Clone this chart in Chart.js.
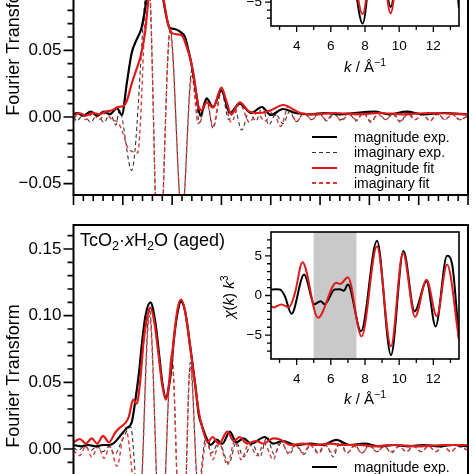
<!DOCTYPE html>
<html><head><meta charset="utf-8">
<script src="https://cdn.jsdelivr.net/npm/chart.js@4.4.1/dist/chart.umd.min.js"></script>
<style>
html,body{margin:0;padding:0;background:#fff;}
body{width:474px;height:474px;overflow:hidden;position:relative;font-family:"Liberation Sans",Arial,Helvetica,sans-serif;color:#000;}
.box{position:absolute;}
.lgl{position:absolute;left:312px;width:25px;}
.solid{height:2px;}
.dash{height:1.4px;}
.lgt{position:absolute;left:354px;font-size:14px;line-height:16px;white-space:nowrap;}
.lbl{position:absolute;white-space:nowrap;transform:translate(-50%,-50%);}
sub,sup{font-size:0.7em;line-height:0;}
</style></head><body>
<div class="box" style="left:0;top:-120px;width:474px;height:340px"><canvas id="mainTop" width="474" height="340"></canvas></div>
<div class="box" style="left:0;top:212px;width:474px;height:340px"><canvas id="mainBot" width="474" height="340"></canvas></div>
<div class="box" style="left:200px;top:-113px;width:270px;height:200px"><canvas id="insetTop" width="270" height="200"></canvas></div>
<div class="box" style="left:200px;top:220px;width:270px;height:200px"><canvas id="insetBot" width="270" height="200"></canvas></div>

<!-- legends -->
<div class="lgl solid" style="top:136px;background:#000"></div><div class="lgt" style="top:129px">magnitude exp.</div>
<div class="lgl dash" style="top:151.6px;background:repeating-linear-gradient(to right,#333 0 4px,transparent 4px 7px)"></div><div class="lgt" style="top:144.3px">imaginary exp.</div>
<div class="lgl solid" style="top:166.6px;background:#e0191b"></div><div class="lgt" style="top:159.6px">magnitude fit</div>
<div class="lgl dash" style="top:182.2px;background:repeating-linear-gradient(to right,#dd3a3a 0 4px,transparent 4px 7px)"></div><div class="lgt" style="top:174.9px">imaginary fit</div>
<div class="lgl solid" style="top:466px;background:#000"></div><div class="lgt" style="top:459px">magnitude exp.</div>

<div class="lbl" style="left:80px;top:240px;transform:translate(0,-50%);font-size:18px">TcO<sub>2</sub>·<i>x</i>H<sub>2</sub>O (aged)</div>
<div class="lbl" style="left:365px;top:66px;font-size:15px"><i>k</i> / Å<sup>−1</sup></div>
<div class="lbl" style="left:365px;top:398px;font-size:15px"><i>k</i> / Å<sup>−1</sup></div>
<div class="lbl" style="left:228px;top:297px;font-size:15px;transform:translate(-50%,-50%) rotate(-90deg)"><i>χ</i>(<i>k</i>) <i>k</i><sup>3</sup></div>

<script>
// ===== Fourier transform panels: R / Å =====
const rTicksMajor = [0,1,2,3,4,5,6,7,8];
const ftTicks = [-0.05, 0, 0.05, 0.10, 0.15];
const ftTickLabels = ['\u22120.05','0.00','0.05','0.10','0.15'];

// top panel
const rMagExpTop = [0.00,0.07,0.20,0.35,0.48,0.62,0.74,0.88,0.98,1.08,1.18,1.28,1.38,1.49,1.57,1.65,1.73,1.82,1.95,2.05,2.16,2.26,2.33,2.40,2.50,2.57,2.70,2.83,3.00,3.17,3.37,3.60,3.82,4.00,4.25,4.50,4.80,5.10,5.40,5.70,6.10,6.40,6.75,7.10,7.50,8.00];
const magExpTop  = [0.002,0.003,0.001,0.004,0.001,0.004,0.002,0.0067,0.0015,0.025,0.048,0.058,0.067,0.090,0.110,0.120,0.110,0.088,0.067,0.066,0.064,0.060,0.050,0.038,0.015,0.001,0.014,0.0075,0.020,0.003,0.010,0.003,0.0075,0.0015,0.006,0.003,0.002,0.003,0.002,0.003,0.004,0.002,0.004,0.002,0.003,0.002];
const rMagFitTop = [0.00,0.12,0.25,0.40,0.52,0.65,0.78,0.90,1.00,1.08,1.18,1.27,1.35,1.45,1.52,1.60,1.68,1.76,1.83,1.93,2.00,2.10,2.20,2.30,2.36,2.43,2.53,2.60,2.70,2.83,3.00,3.10,3.20,3.37,3.57,3.78,4.00,4.25,4.60,4.90,5.30,5.80,6.20,6.70,7.20,8.00];
const magFitTop  = [0.001,0.003,0.001,0.003,0.002,0.004,0.005,0.0075,0.008,0.012,0.025,0.035,0.044,0.063,0.088,0.108,0.118,0.108,0.088,0.068,0.063,0.062,0.061,0.052,0.045,0.033,0.008,0.005,0.011,0.007,0.022,0.012,0.002,0.011,0.004,0.003,0.005,0.009,0.003,0.002,0.003,0.002,0.003,0.002,0.003,0.002];
const rImExpTop = [0.00,0.07,0.20,0.35,0.48,0.62,0.74,0.86,0.93,1.18,1.52,1.73,1.96,2.20,2.40,2.56,2.70,2.83,3.00,3.15,3.27,3.41,3.56,3.70,3.83,3.96,4.10,4.25,4.38,4.52,4.67,4.83,4.98,5.13,5.28,5.43,5.58,5.73,5.88,6.03,6.18,6.33,6.48,6.63,6.78,6.93,7.08,7.23,7.38,7.53,7.68,7.83,8.00];
const imExpTop  = [0.000,-0.003,0.002,-0.004,0.002,-0.004,0.003,-0.006,0.005,-0.040,0.105,-0.120,0.066,-0.075,0.035,-0.004,0.013,-0.0085,0.019,-0.002,0.006,-0.0098,0.004,-0.003,0.0075,-0.006,0.002,-0.005,0.004,-0.0035,0.003,-0.002,0.003,-0.003,0.002,-0.002,0.003,-0.003,0.003,-0.004,0.003,-0.002,0.002,-0.004,0.004,-0.002,0.002,-0.003,0.003,-0.002,0.002,-0.002,0.001];
const rImFitTop = [0.00,0.12,0.25,0.40,0.52,0.65,0.78,0.90,1.00,1.10,1.20,1.30,1.52,1.73,1.96,2.20,2.40,2.53,2.70,2.83,3.00,3.20,3.37,3.57,3.72,3.88,4.05,4.20,4.36,4.52,4.68,4.83,4.98,5.13,5.28,5.43,5.58,5.73,5.88,6.03,6.18,6.33,6.48,6.63,6.78,6.93,7.08,7.23,7.38,7.53,7.68,7.83,8.00];
const imFitTop  = [-0.001,0.002,-0.002,0.003,-0.002,0.003,-0.002,-0.004,-0.012,-0.023,-0.026,-0.027,0.110,-0.120,0.064,-0.075,0.031,-0.005,0.011,-0.007,0.021,-0.004,0.010,-0.004,0.003,-0.003,0.004,-0.007,0.008,-0.0035,0.003,-0.002,0.002,-0.002,0.003,-0.003,0.002,-0.002,0.003,-0.003,0.002,-0.002,0.003,-0.003,0.002,-0.002,0.002,-0.003,0.002,-0.002,0.002,-0.002,0.001];

// bottom panel (aged)
const rMagExpBot = [0.00,0.15,0.30,0.45,0.60,0.72,0.82,0.95,1.08,1.18,1.26,1.33,1.39,1.46,1.56,1.66,1.73,1.80,1.87,1.97,2.03,2.10,2.18,2.27,2.37,2.47,2.54,2.60,2.70,2.78,2.90,3.02,3.17,3.30,3.45,3.60,3.88,4.05,4.25,4.50,4.80,5.05,5.33,5.60,5.90,6.20,6.50,6.80,7.10,7.40,7.70,8.00];
const magExpBot  = [0.003,0.002,0.003,0.002,0.003,0.003,0.0045,0.010,0.0158,0.020,0.038,0.058,0.080,0.100,0.110,0.095,0.073,0.050,0.039,0.0556,0.080,0.100,0.1105,0.102,0.076,0.048,0.0256,0.018,0.008,0.003,0.007,0.004,0.013,0.005,0.008,0.004,0.009,0.004,0.006,0.003,0.004,0.003,0.0068,0.003,0.004,0.002,0.003,0.002,0.003,0.002,0.003,0.002];
const rMagFitBot = [0.00,0.13,0.25,0.37,0.48,0.60,0.72,0.84,0.94,1.04,1.12,1.21,1.28,1.35,1.42,1.50,1.56,1.64,1.72,1.80,1.87,1.96,2.04,2.11,2.18,2.26,2.36,2.46,2.54,2.62,2.72,2.82,2.95,3.12,3.25,3.37,3.52,3.70,3.85,4.05,4.20,4.40,4.65,4.90,5.20,5.50,5.80,6.10,6.50,7.00,7.50,8.00];
const magFitBot  = [0.005,0.0075,0.004,0.008,0.004,0.0098,0.005,0.012,0.016,0.019,0.024,0.037,0.034,0.050,0.080,0.100,0.106,0.095,0.072,0.048,0.037,0.056,0.085,0.105,0.112,0.104,0.078,0.050,0.028,0.015,0.005,0.009,0.004,0.013,0.006,0.009,0.004,0.006,0.004,0.008,0.007,0.003,0.004,0.003,0.004,0.003,0.003,0.002,0.003,0.002,0.003,0.003];
const rImExpBot = [0.00,0.10,0.22,0.35,0.48,0.60,0.72,0.84,0.98,1.16,1.33,1.54,1.77,1.99,2.20,2.37,2.53,2.68,2.80,2.95,3.15,3.30,3.45,3.62,3.78,3.92,4.07,4.22,4.37,4.52,4.67,4.82,4.97,5.12,5.27,5.40,5.55,5.70,5.85,6.00,6.15,6.30,6.45,6.60,6.75,6.90,7.05,7.20,7.35,7.50,7.65,7.80,8.00];
const imExpBot  = [0.001,-0.001,0.002,-0.001,0.002,-0.002,0.002,-0.004,0.006,0.0165,-0.050,0.105,-0.080,0.070,-0.110,0.065,-0.030,0.008,-0.003,0.005,-0.011,0.005,-0.006,0.004,-0.006,0.009,-0.004,0.005,-0.004,0.003,-0.004,0.004,-0.003,0.003,-0.006,0.006,-0.003,0.003,-0.003,0.003,-0.002,0.002,-0.003,0.002,-0.002,0.002,-0.002,0.002,-0.002,0.002,-0.002,0.002,-0.001];
const rImFitBot = [0.00,0.12,0.25,0.37,0.50,0.62,0.74,0.88,1.05,1.33,1.54,1.77,1.99,2.20,2.37,2.53,2.70,2.82,2.96,3.12,3.27,3.40,3.56,3.72,3.87,4.05,4.20,4.35,4.50,4.65,4.80,4.95,5.10,5.25,5.40,5.55,5.70,5.85,6.00,6.15,6.30,6.45,6.60,6.75,6.90,7.05,7.20,7.35,7.50,7.65,7.80,8.00];
const imFitBot  = [-0.001,-0.005,0.002,-0.006,0.002,-0.007,0.002,-0.013,0.016,-0.052,0.100,-0.080,0.071,-0.112,0.062,-0.032,0.007,-0.008,0.004,-0.012,0.006,-0.008,0.004,-0.005,0.004,-0.008,0.007,-0.003,0.003,-0.003,0.003,-0.003,0.003,-0.003,0.003,-0.003,0.002,-0.003,0.002,-0.002,0.002,-0.002,0.002,-0.002,0.002,-0.002,0.002,-0.002,0.002,-0.002,0.002,-0.001];

// ===== insets: chi(k) k^3 =====
const kTicks = [4,6,8,10,12];
const kTickLabels = ['4','6','8','10','12'];
const kMinor = [3,5,7,9,11,13];
const chiTicks = [-5,0,5];
const chiTickLabels = ['\u22125','0','5'];
const chiMinor = [-7,-6,-4,-3,-2,-1,1,2,3,4,6,7];
const shadeK = [5, 7.5];

const kExpTop = [2.50,3.00,3.70,4.40,5.00,5.50,6.00,6.50,7.00,7.86,8.70,9.50,10.25,10.90,11.60,12.15,12.80,13.15,13.50];
const chiExpTop = [0.5,0.3,-2.0,2.5,-1.5,-0.8,-1.5,1.0,2.0,-7.7,7.5,-5.6,6.0,-3.0,2.5,-4.0,5.5,2.0,-5.8];
const kFitTop = [2.50,3.10,3.60,4.35,5.20,6.30,7.00,7.86,8.70,9.50,10.22,10.93,11.60,12.20,12.80,13.50];
const chiFitTop = [-1.0,-0.8,-1.5,3.5,-2.5,1.5,2.2,-6.5,6.5,-6.4,5.5,-3.0,2.0,-3.0,4.5,-5.0];

const kExpBot = [2.50,2.80,3.02,3.31,3.70,4.44,4.96,5.05,5.22,5.41,5.64,6.22,6.51,6.76,7.00,7.77,8.70,9.52,10.25,10.90,11.60,12.13,12.80,13.10,13.50];
const chiExpBot = [0.76,0.78,0.76,-0.08,-2.3,2.66,-0.93,-1.1,-0.9,-0.72,-1.1,0.76,0.80,0.60,1.39,-4.5,6.9,-7.5,5.6,-2.0,1.8,-3.9,5.0,3.9,-5.5];
const kFitBot = [2.50,2.65,3.10,3.55,3.90,4.34,5.25,6.32,6.55,7.00,7.80,8.70,9.52,10.22,10.93,11.60,12.20,12.80,13.50];
const chiFitBot = [-1.35,-1.5,-1.14,-1.5,0.3,4.2,-2.8,1.6,1.45,2.3,-5.15,6.2,-6.4,5.4,-2.7,2.0,-2.6,3.9,-5.6];

// minor tick positions (decoration only)
const rMinor = []; for (let i = 1; i < 40; i++) if (i % 5) rMinor.push(i / 5);
const ftMinor = []; for (let i = -5; i <= 16; i++) if (i % 5) ftMinor.push(i / 100);

Chart.defaults.font.family = '"Liberation Sans", Arial, Helvetica, sans-serif';
Chart.defaults.color = '#000';

const BLACK = '#000', DARK = '#333', RED = '#e0191b', RED2 = '#dd3a3a';

function pts(xs, ys) { return xs.map((x, i) => ({ x: x, y: ys[i] })); }
function ds(label, xs, ys, color, width, dash) {
  return { label, data: pts(xs, ys), borderColor: color, borderWidth: width, borderDash: dash || [],
    pointRadius: 0, fill: false, tension: 0.4, cubicInterpolationMode: 'monotone' };
}
function noPad(s) { s.paddingTop = 0; s.paddingBottom = 0; s.paddingLeft = 0; s.paddingRight = 0; }

const deco = {
  id: 'deco',
  beforeDraw(chart, args, o) {
    if (!o.bg) return;
    const a = chart.chartArea, c = chart.ctx;
    c.save(); c.fillStyle = o.bg; c.fillRect(a.left, a.top, a.right - a.left, a.bottom - a.top); c.restore();
  },
  beforeDatasetsDraw(chart, args, o) {
    if (!o.shade) return;
    const a = chart.chartArea, c = chart.ctx, sx = chart.scales.x;
    const x0 = sx.getPixelForValue(o.shade[0]), x1 = sx.getPixelForValue(o.shade[1]);
    c.save(); c.fillStyle = o.shadeColor; c.fillRect(x0, a.top, x1 - x0, a.bottom - a.top); c.restore();
  },
  afterDraw(chart, args, o) {
    const a = chart.chartArea, c = chart.ctx, sx = chart.scales.x, sy = chart.scales.y;
    c.save();
    c.strokeStyle = '#000';
    c.lineWidth = o.tickWidth;
    c.beginPath();
    const tx = (vals, len) => vals.forEach(v => { const p = sx.getPixelForValue(v); c.moveTo(p, a.bottom); c.lineTo(p, a.bottom + len); });
    const ty = (vals, len) => vals.forEach(v => { const p = sy.getPixelForValue(v); c.moveTo(a.left, p); c.lineTo(a.left - len, p); });
    tx(o.xMajor, o.majorLen); tx(o.xMinor, o.minorLen); ty(o.yMajor, o.majorLen); ty(o.yMinor, o.minorLen);
    c.stroke();
    c.lineWidth = o.frameWidth;
    c.strokeRect(a.left, a.top, a.right - a.left, a.bottom - a.top);
    c.restore();
  }
};

function mainChart(id, rmE, mE, rmF, mF, riE, iE, riF, iF) {
  return new Chart(document.getElementById(id), {
    type: 'line',
    data: { datasets: [
      ds('magnitude fit', rmF, mF, RED, 2.2),
      ds('magnitude exp.', rmE, mE, BLACK, 2.2),
      ds('imaginary fit', riF, iF, RED2, 1.4, [4, 3]),
      ds('imaginary exp.', riE, iE, DARK, 1.1, [4, 3])
    ] },
    options: {
      responsive: false, animation: false, devicePixelRatio: 1,
      layout: { padding: { left: 0, right: 6, top: 13, bottom: 0 } },
      plugins: { legend: { display: false }, tooltip: { enabled: false },
        deco: { xMajor: rTicksMajor, xMinor: rMinor, yMajor: ftTicks, yMinor: ftMinor,
          majorLen: 10, minorLen: 6, tickWidth: 1.6, frameWidth: 2 } },
      scales: {
        x: { type: 'linear', min: 0, max: 8, grid: { display: false, drawTicks: false }, border: { display: false },
          ticks: { display: false }, afterFit: s => { s.height = 25; noPad(s); } },
        y: { type: 'linear', min: -0.0585, max: 0.168, grid: { display: false, drawTicks: false }, border: { display: false },
          afterBuildTicks: s => { s.ticks = ftTicks.map(v => ({ value: v })); },
          ticks: { padding: 12, font: { size: 17 }, color: '#000', callback: (v, i) => ftTickLabels[i] },
          title: { display: true, text: 'Fourier Transform', font: { size: 18 }, color: '#000', padding: { top: 3, bottom: 0 } },
          afterFit: s => { s.width = 73.5; noPad(s); } }
      }
    },
    plugins: [deco]
  });
}

function insetChart(id, kE, cE, kF, cF, shade) {
  return new Chart(document.getElementById(id), {
    type: 'line',
    data: { datasets: [
      ds('fit', kF, cF, RED, 2),
      ds('exp.', kE, cE, BLACK, 2)
    ] },
    options: {
      responsive: false, animation: false, devicePixelRatio: 1,
      layout: { padding: { left: 15, right: 11, top: 12, bottom: 13 } },
      plugins: { legend: { display: false }, tooltip: { enabled: false },
        deco: { bg: '#fff', shade: shade, shadeColor: '#c9c9c9',
          xMajor: kTicks, xMinor: kMinor, yMajor: chiTicks, yMinor: chiMinor,
          majorLen: 6, minorLen: 4, tickWidth: 1.3, frameWidth: 1.6 } },
      scales: {
        x: { type: 'linear', min: 2.5, max: 13.5, grid: { display: false, drawTicks: false }, border: { display: false },
          afterBuildTicks: s => { s.ticks = kTicks.map(v => ({ value: v })); },
          ticks: { padding: 12, font: { size: 13.5 }, color: '#000', maxRotation: 0, callback: (v, i) => kTickLabels[i] },
          afterFit: s => { s.height = 48; noPad(s); } },
        y: { type: 'linear', min: -8, max: 8, grid: { display: false, drawTicks: false }, border: { display: false },
          afterBuildTicks: s => { s.ticks = chiTicks.map(v => ({ value: v })); },
          ticks: { padding: 9, font: { size: 13.5 }, color: '#000', callback: (v, i) => chiTickLabels[i] },
          afterFit: s => { s.width = 56; noPad(s); } }
      }
    },
    plugins: [deco]
  });
}

mainChart('mainTop', rMagExpTop, magExpTop, rMagFitTop, magFitTop, rImExpTop, imExpTop, rImFitTop, imFitTop);
mainChart('mainBot', rMagExpBot, magExpBot, rMagFitBot, magFitBot, rImExpBot, imExpBot, rImFitBot, imFitBot);
insetChart('insetTop', kExpTop, chiExpTop, kFitTop, chiFitTop, null);
insetChart('insetBot', kExpBot, chiExpBot, kFitBot, chiFitBot, shadeK);
</script>
</body></html>
